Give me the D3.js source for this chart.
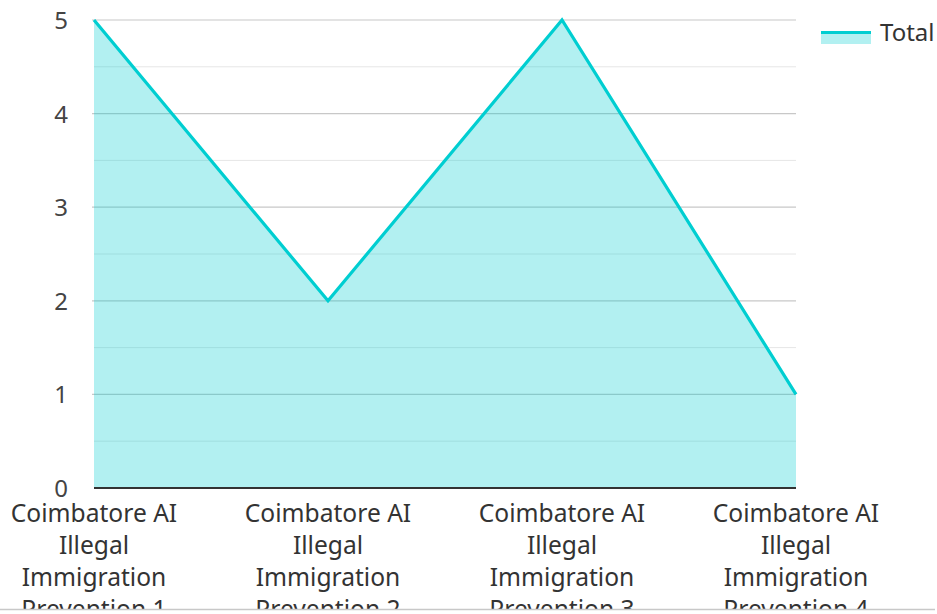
<!DOCTYPE html>
<html><head><meta charset="utf-8">
<script src="https://cdn.jsdelivr.net/npm/d3@7/dist/d3.min.js"></script>
<style>
html,body{margin:0;padding:0;background:#fff;overflow:hidden;}
svg{display:block;font-family:"Noto Sans",sans-serif;}
</style></head><body>
<script>
const categories = [
  "Coimbatore AI Illegal Immigration Prevention 1",
  "Coimbatore AI Illegal Immigration Prevention 2",
  "Coimbatore AI Illegal Immigration Prevention 3",
  "Coimbatore AI Illegal Immigration Prevention 4"
];
const categoryLines = [
  ["Coimbatore AI","Illegal","Immigration","Prevention 1"],
  ["Coimbatore AI","Illegal","Immigration","Prevention 2"],
  ["Coimbatore AI","Illegal","Immigration","Prevention 3"],
  ["Coimbatore AI","Illegal","Immigration","Prevention 4"]
];
const totals = [5, 2, 5, 1];
const yTicks = [0, 1, 2, 3, 4, 5];
const seriesName = "Total";

const W = 937, H = 614;
const svg = d3.select("body").append("svg").attr("width", W).attr("height", H);
const m = {left: 94, right: 141, top: 20, bottom: 126};
const x = d3.scalePoint().domain(categories).range([m.left, W - m.right]);
const y = d3.scaleLinear().domain([0, 5]).range([H - m.bottom, m.top]);

svg.append("defs").append("clipPath").attr("id","c").append("rect")
  .attr("x",0).attr("y",0).attr("width",W).attr("height",609);
const g = svg.append("g").attr("clip-path","url(#c)");

// minor grid
const minor = d3.range(0.5, 5, 1);
g.selectAll(".minor").data(minor).enter().append("line")
  .attr("x1", m.left).attr("x2", W - m.right)
  .attr("y1", d => y(d)).attr("y2", d => y(d))
  .attr("stroke", "#e6e6e6").attr("stroke-width", 1);
// major grid
g.selectAll(".major").data(yTicks.filter(d => d > 0)).enter().append("line")
  .attr("x1", m.left - 2).attr("x2", W - m.right)
  .attr("y1", d => y(d)).attr("y2", d => y(d))
  .attr("stroke", "#c8c8c8").attr("stroke-width", 1.2);

const area = d3.area().x((d,i) => x(categories[i])).y0(y(0)).y1(d => y(d));
g.append("path").datum(totals).attr("d", area)
  .attr("fill", "rgba(0,206,209,0.3)");
const line = d3.line().x((d,i) => x(categories[i])).y(d => y(d));
g.append("path").datum(totals).attr("d", line)
  .attr("fill", "none").attr("stroke", "#00CED1").attr("stroke-width", 3.2)
  .attr("stroke-linejoin","miter");

// x axis line
g.append("line").attr("x1", m.left).attr("x2", W - m.right)
  .attr("y1", y(0)).attr("y2", y(0)).attr("stroke", "#333").attr("stroke-width", 2);

// y tick labels
g.selectAll(".yt").data(yTicks).enter().append("text")
  .attr("x", 68).attr("y", d => y(d) + 9)
  .attr("text-anchor", "end").attr("font-size", 24).attr("fill", "#444")
  .text(d => d);

// x labels
categories.forEach((c, i) => {
  const t = g.append("text").attr("text-anchor","middle").attr("font-size", 24.6).attr("fill","#333");
  categoryLines[i].forEach((ln, j) => {
    t.append("tspan").attr("x", x(c)).attr("y", 522 + j * 32).text(ln);
  });
});

// bottom border line
svg.append("line").attr("x1", 0).attr("x2", 935).attr("y1", 609.5).attr("y2", 609.5)
  .attr("stroke", "#c8c8c8").attr("stroke-width", 1.5);

// legend
const lg = svg.append("g");
lg.append("rect").attr("x", 821).attr("y", 33).attr("width", 50).attr("height", 11)
  .attr("fill", "rgba(0,206,209,0.3)");
lg.append("line").attr("x1", 821).attr("x2", 871).attr("y1", 32.5).attr("y2", 32.5)
  .attr("stroke", "#00CED1").attr("stroke-width", 3.2);
lg.append("text").attr("x", 880).attr("y", 41).attr("font-size", 24).attr("fill", "#333").text(seriesName);
</script>
</body></html>
